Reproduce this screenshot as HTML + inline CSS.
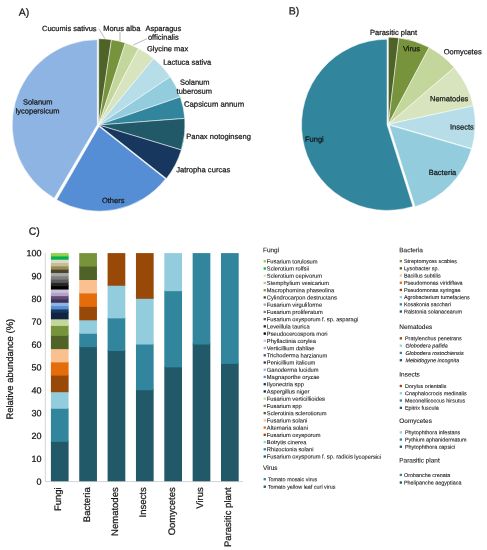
<!DOCTYPE html>
<html><head><meta charset="utf-8"><title>Figure</title>
<style>html,body{margin:0;padding:0;background:#fff;}svg{display:block;}text{font-family:"Liberation Sans",Arial,sans-serif;}</style>
</head><body>
<svg width="487" height="550" viewBox="0 0 487 550">
<rect x="50.90" y="440.86" width="17.7" height="40.74" fill="#215968"/>
<rect x="50.90" y="407.74" width="17.7" height="34.12" fill="#31859C"/>
<rect x="50.90" y="391.19" width="17.7" height="17.56" fill="#93CDDD"/>
<rect x="50.90" y="374.63" width="17.7" height="17.56" fill="#984807"/>
<rect x="50.90" y="361.38" width="17.7" height="14.25" fill="#E46C0A"/>
<rect x="50.90" y="348.14" width="17.7" height="14.25" fill="#FAC090"/>
<rect x="50.90" y="334.89" width="17.7" height="14.25" fill="#4F6228"/>
<rect x="50.90" y="324.96" width="17.7" height="10.93" fill="#77933C"/>
<rect x="50.90" y="318.33" width="17.7" height="7.62" fill="#C3D69B"/>
<rect x="50.90" y="311.71" width="17.7" height="7.62" fill="#0F243E"/>
<rect x="50.90" y="308.40" width="17.7" height="4.31" fill="#17375E"/>
<rect x="50.90" y="305.09" width="17.7" height="4.31" fill="#558ED5"/>
<rect x="50.90" y="301.77" width="17.7" height="4.31" fill="#8EB4E3"/>
<rect x="50.90" y="298.46" width="17.7" height="4.31" fill="#403152"/>
<rect x="50.90" y="295.15" width="17.7" height="4.31" fill="#604A7B"/>
<rect x="50.90" y="291.84" width="17.7" height="4.31" fill="#B3A2C7"/>
<rect x="50.90" y="288.53" width="17.7" height="4.31" fill="#CCC1DA"/>
<rect x="50.90" y="285.22" width="17.7" height="4.31" fill="#000000"/>
<rect x="50.90" y="281.90" width="17.7" height="4.31" fill="#262626"/>
<rect x="50.90" y="278.59" width="17.7" height="4.31" fill="#595959"/>
<rect x="50.90" y="275.28" width="17.7" height="4.31" fill="#7F7F7F"/>
<rect x="50.90" y="271.97" width="17.7" height="4.31" fill="#A6A6A6"/>
<rect x="50.90" y="268.66" width="17.7" height="4.31" fill="#4A452A"/>
<rect x="50.90" y="265.35" width="17.7" height="4.31" fill="#948A54"/>
<rect x="50.90" y="262.03" width="17.7" height="4.31" fill="#C4BD97"/>
<rect x="50.90" y="258.72" width="17.7" height="4.31" fill="#DDD9C3"/>
<rect x="50.90" y="255.41" width="17.7" height="4.31" fill="#00B050"/>
<rect x="50.90" y="253.10" width="17.7" height="3.31" fill="#92D050"/>
<rect x="79.25" y="346.19" width="17.7" height="135.41" fill="#215968"/>
<rect x="79.25" y="332.75" width="17.7" height="14.44" fill="#31859C"/>
<rect x="79.25" y="319.31" width="17.7" height="14.44" fill="#93CDDD"/>
<rect x="79.25" y="305.86" width="17.7" height="14.44" fill="#984807"/>
<rect x="79.25" y="292.42" width="17.7" height="14.44" fill="#E46C0A"/>
<rect x="79.25" y="278.98" width="17.7" height="14.44" fill="#FAC090"/>
<rect x="79.25" y="265.54" width="17.7" height="14.44" fill="#4F6228"/>
<rect x="79.25" y="253.10" width="17.7" height="13.44" fill="#77933C"/>
<rect x="107.60" y="350.03" width="17.7" height="131.57" fill="#215968"/>
<rect x="107.60" y="317.39" width="17.7" height="33.64" fill="#31859C"/>
<rect x="107.60" y="284.74" width="17.7" height="33.64" fill="#93CDDD"/>
<rect x="107.60" y="253.10" width="17.7" height="32.64" fill="#984807"/>
<rect x="135.95" y="389.20" width="17.7" height="92.40" fill="#215968"/>
<rect x="135.95" y="343.50" width="17.7" height="46.70" fill="#31859C"/>
<rect x="135.95" y="297.80" width="17.7" height="46.70" fill="#93CDDD"/>
<rect x="135.95" y="253.10" width="17.7" height="45.70" fill="#984807"/>
<rect x="164.30" y="366.35" width="17.7" height="115.25" fill="#215968"/>
<rect x="164.30" y="290.18" width="17.7" height="77.17" fill="#31859C"/>
<rect x="164.30" y="253.10" width="17.7" height="38.08" fill="#93CDDD"/>
<rect x="192.65" y="343.50" width="17.7" height="138.10" fill="#215968"/>
<rect x="192.65" y="253.10" width="17.7" height="91.40" fill="#31859C"/>
<rect x="221.00" y="362.92" width="17.7" height="118.68" fill="#215968"/>
<rect x="221.00" y="253.10" width="17.7" height="110.82" fill="#31859C"/>
<rect x="263.6" y="260.15" width="2.3" height="2.3" fill="#92D050"/>
<rect x="263.6" y="267.38" width="2.3" height="2.3" fill="#00B050"/>
<rect x="263.6" y="274.61" width="2.3" height="2.3" fill="#DDD9C3"/>
<rect x="263.6" y="281.84" width="2.3" height="2.3" fill="#C4BD97"/>
<rect x="263.6" y="289.07" width="2.3" height="2.3" fill="#948A54"/>
<rect x="263.6" y="296.30" width="2.3" height="2.3" fill="#4A452A"/>
<rect x="263.6" y="303.53" width="2.3" height="2.3" fill="#A6A6A6"/>
<rect x="263.6" y="310.76" width="2.3" height="2.3" fill="#7F7F7F"/>
<rect x="263.6" y="317.99" width="2.3" height="2.3" fill="#595959"/>
<rect x="263.6" y="325.22" width="2.3" height="2.3" fill="#262626"/>
<rect x="263.6" y="332.45" width="2.3" height="2.3" fill="#000000"/>
<rect x="263.6" y="339.68" width="2.3" height="2.3" fill="#CCC1DA"/>
<rect x="263.6" y="346.91" width="2.3" height="2.3" fill="#B3A2C7"/>
<rect x="263.6" y="354.14" width="2.3" height="2.3" fill="#604A7B"/>
<rect x="263.6" y="361.37" width="2.3" height="2.3" fill="#403152"/>
<rect x="263.6" y="368.60" width="2.3" height="2.3" fill="#8EB4E3"/>
<rect x="263.6" y="375.83" width="2.3" height="2.3" fill="#558ED5"/>
<rect x="263.6" y="383.06" width="2.3" height="2.3" fill="#17375E"/>
<rect x="263.6" y="390.29" width="2.3" height="2.3" fill="#0F243E"/>
<rect x="263.6" y="397.52" width="2.3" height="2.3" fill="#C3D69B"/>
<rect x="263.6" y="404.75" width="2.3" height="2.3" fill="#77933C"/>
<rect x="263.6" y="411.98" width="2.3" height="2.3" fill="#4F6228"/>
<rect x="263.6" y="419.21" width="2.3" height="2.3" fill="#FAC090"/>
<rect x="263.6" y="426.44" width="2.3" height="2.3" fill="#E46C0A"/>
<rect x="263.6" y="433.67" width="2.3" height="2.3" fill="#984807"/>
<rect x="263.6" y="440.90" width="2.3" height="2.3" fill="#93CDDD"/>
<rect x="263.6" y="448.13" width="2.3" height="2.3" fill="#31859C"/>
<rect x="263.6" y="455.36" width="2.3" height="2.3" fill="#215968"/>
<rect x="263.6" y="478.05" width="2.3" height="2.3" fill="#31859C"/>
<rect x="263.6" y="485.55" width="2.3" height="2.3" fill="#215968"/>
<rect x="399.7" y="260.00" width="2.3" height="2.3" fill="#77933C"/>
<rect x="399.7" y="267.20" width="2.3" height="2.3" fill="#4F6228"/>
<rect x="399.7" y="274.40" width="2.3" height="2.3" fill="#FAC090"/>
<rect x="399.7" y="281.60" width="2.3" height="2.3" fill="#E46C0A"/>
<rect x="399.7" y="288.80" width="2.3" height="2.3" fill="#984807"/>
<rect x="399.7" y="296.00" width="2.3" height="2.3" fill="#93CDDD"/>
<rect x="399.7" y="303.20" width="2.3" height="2.3" fill="#31859C"/>
<rect x="399.7" y="310.40" width="2.3" height="2.3" fill="#215968"/>
<rect x="399.7" y="337.20" width="2.3" height="2.3" fill="#984807"/>
<rect x="399.7" y="344.50" width="2.3" height="2.3" fill="#93CDDD"/>
<rect x="399.7" y="351.80" width="2.3" height="2.3" fill="#31859C"/>
<rect x="399.7" y="359.10" width="2.3" height="2.3" fill="#215968"/>
<rect x="399.7" y="384.80" width="2.3" height="2.3" fill="#984807"/>
<rect x="399.7" y="392.10" width="2.3" height="2.3" fill="#93CDDD"/>
<rect x="399.7" y="399.40" width="2.3" height="2.3" fill="#31859C"/>
<rect x="399.7" y="406.70" width="2.3" height="2.3" fill="#215968"/>
<rect x="399.7" y="431.20" width="2.3" height="2.3" fill="#93CDDD"/>
<rect x="399.7" y="438.40" width="2.3" height="2.3" fill="#31859C"/>
<rect x="399.7" y="445.60" width="2.3" height="2.3" fill="#215968"/>
<rect x="399.7" y="473.80" width="2.3" height="2.3" fill="#31859C"/>
<rect x="399.7" y="481.40" width="2.3" height="2.3" fill="#215968"/>
<path d="M98.70,125.00L98.70,38.70A86.3,86.3 0 0 1 111.46,39.65Z" fill="#4F6228" stroke="#fff" stroke-width="0.5" stroke-linejoin="round"/>
<path d="M98.70,125.00L111.46,39.65A86.3,86.3 0 0 1 125.37,42.92Z" fill="#77933C" stroke="#fff" stroke-width="0.5" stroke-linejoin="round"/>
<path d="M98.70,125.00L125.37,42.92A86.3,86.3 0 0 1 138.55,48.45Z" fill="#C3D69B" stroke="#fff" stroke-width="0.5" stroke-linejoin="round"/>
<path d="M98.70,125.00L138.55,48.45A86.3,86.3 0 0 1 153.59,58.41Z" fill="#D7E4BD" stroke="#fff" stroke-width="0.5" stroke-linejoin="round"/>
<path d="M98.70,125.00L153.59,58.41A86.3,86.3 0 0 1 170.25,76.74Z" fill="#B7DEE8" stroke="#fff" stroke-width="0.5" stroke-linejoin="round"/>
<path d="M98.70,125.00L170.25,76.74A86.3,86.3 0 0 1 180.30,96.90Z" fill="#93CDDD" stroke="#fff" stroke-width="0.5" stroke-linejoin="round"/>
<path d="M98.70,125.00L180.30,96.90A86.3,86.3 0 0 1 184.75,118.38Z" fill="#31859C" stroke="#fff" stroke-width="0.5" stroke-linejoin="round"/>
<path d="M98.70,125.00L184.75,118.38A86.3,86.3 0 0 1 181.32,149.94Z" fill="#215968" stroke="#fff" stroke-width="0.5" stroke-linejoin="round"/>
<path d="M98.70,125.00L181.32,149.94A86.3,86.3 0 0 1 166.43,178.49Z" fill="#17375E" stroke="#fff" stroke-width="0.5" stroke-linejoin="round"/>
<path d="M98.99,126.47L165.48,178.98A84.73,84.73 0 0 1 56.62,199.85Z" fill="#558ED5" stroke="#fff" stroke-width="0.5" stroke-linejoin="round"/>
<path d="M97.30,124.85L54.24,198.25A85.1,85.1 0 0 1 97.30,39.75Z" fill="#8EB4E3" stroke="#fff" stroke-width="0.5" stroke-linejoin="round"/>
<path d="M388.35,124.20L388.35,37.25A86.95,86.95 0 0 1 398.80,37.88Z" fill="#4F6228" stroke="#fff" stroke-width="0.5" stroke-linejoin="round"/>
<path d="M388.35,124.20L398.80,37.88A86.95,86.95 0 0 1 429.17,47.43Z" fill="#77933C" stroke="#fff" stroke-width="0.5" stroke-linejoin="round"/>
<path d="M388.35,124.20L429.17,47.43A86.95,86.95 0 0 1 454.27,67.50Z" fill="#C3D69B" stroke="#fff" stroke-width="0.5" stroke-linejoin="round"/>
<path d="M388.35,124.20L454.27,67.50A86.95,86.95 0 0 1 473.34,105.83Z" fill="#D7E4BD" stroke="#fff" stroke-width="0.5" stroke-linejoin="round"/>
<path d="M388.35,124.20L473.34,105.83A86.95,86.95 0 0 1 471.81,148.60Z" fill="#B7DEE8" stroke="#fff" stroke-width="0.5" stroke-linejoin="round"/>
<path d="M389.20,125.05L471.46,149.10A85.7,85.7 0 0 1 415.11,206.74Z" fill="#93CDDD" stroke="#fff" stroke-width="0.5" stroke-linejoin="round"/>
<path d="M387.05,124.85L412.92,206.40A85.55,85.55 0 1 1 387.05,39.30Z" fill="#31859C" stroke="#fff" stroke-width="0.5" stroke-linejoin="round"/>
<g stroke="#8a8a8a" stroke-width="0.6" fill="none">
<path d="M98.7,28.7L105,38.7"/>
<path d="M120,32L120,41"/>
<path d="M147,38.7L133.2,45"/>
</g>
<g font-family="'Liberation Sans', Arial, sans-serif" fill="#141414" stroke="#141414" stroke-width="0.22" text-rendering="geometricPrecision">
<text transform="translate(18.7,15.7) rotate(0.03)" font-size="10.5" text-anchor="start" >A)</text>
<text transform="translate(288.7,14.4) rotate(0.03)" font-size="10.5" text-anchor="start" >B)</text>
<text transform="translate(28.7,234.7) rotate(0.03)" font-size="10.5" text-anchor="start" >C)</text>
<text transform="translate(42,31.1) rotate(0.03)" font-size="7.5" text-anchor="start" >Cucumis sativus</text>
<text transform="translate(103.2,31.1) rotate(0.03)" font-size="7.5" text-anchor="start" >Morus alba</text>
<text transform="translate(163.3,31.1) rotate(0.03)" font-size="7.5" text-anchor="middle" >Asparagus</text>
<text transform="translate(163.3,39.7) rotate(0.03)" font-size="7.5" text-anchor="middle" >officinalis</text>
<text transform="translate(147,51.2) rotate(0.03)" font-size="7.5" text-anchor="start" >Glycine max</text>
<text transform="translate(163.2,64.7) rotate(0.03)" font-size="7.5" text-anchor="start" >Lactuca sativa</text>
<text transform="translate(194.7,84.7) rotate(0.03)" font-size="7.5" text-anchor="middle" >Solanum</text>
<text transform="translate(194.3,93.7) rotate(0.03)" font-size="7.5" text-anchor="middle" >tuberosum</text>
<text transform="translate(184,106.7) rotate(0.03)" font-size="7.72" text-anchor="start" >Capsicum annum</text>
<text transform="translate(186.2,139.0) rotate(0.03)" font-size="7.57" text-anchor="start" >Panax notoginseng</text>
<text transform="translate(176.2,172.2) rotate(0.03)" font-size="7.6" text-anchor="start" >Jatropha curcas</text>
<text transform="translate(113.2,203.0) rotate(0.03)" font-size="7.5" text-anchor="middle" >Others</text>
<text transform="translate(37.7,104.4) rotate(0.03)" font-size="7.5" text-anchor="middle" >Solanum</text>
<text transform="translate(37.5,113.5) rotate(0.03)" font-size="7.5" text-anchor="middle" >lycopersicum</text>
<text transform="translate(370,35.0) rotate(0.03)" font-size="7.5" text-anchor="start" >Parasitic plant</text>
<text transform="translate(403,51.3) rotate(0.03)" font-size="7.5" text-anchor="start" >Virus</text>
<text transform="translate(443.7,54.3) rotate(0.03)" font-size="7.5" text-anchor="start" >Oomycetes</text>
<text transform="translate(430,101.3) rotate(0.03)" font-size="7.5" text-anchor="start" >Nematodes</text>
<text transform="translate(450,129.6) rotate(0.03)" font-size="7.5" text-anchor="start" >Insects</text>
<text transform="translate(428.7,175.0) rotate(0.03)" font-size="7.5" text-anchor="start" >Bacteria</text>
<text transform="translate(305,141.7) rotate(0.03)" font-size="7.5" text-anchor="start" >Fungi</text>
<g stroke="#c2c2c2" stroke-width="0.7" fill="none">
<path d="M45.3,253.10L45.3,481.6L243,481.6"/>
</g>
<text transform="translate(41.5,484.8) rotate(0.03)" font-size="9.0" text-anchor="end" >0</text>
<text transform="translate(41.5,461.95) rotate(0.03)" font-size="9.0" text-anchor="end" >10</text>
<text transform="translate(41.5,439.1) rotate(0.03)" font-size="9.0" text-anchor="end" >20</text>
<text transform="translate(41.5,416.25) rotate(0.03)" font-size="9.0" text-anchor="end" >30</text>
<text transform="translate(41.5,393.4) rotate(0.03)" font-size="9.0" text-anchor="end" >40</text>
<text transform="translate(41.5,370.55) rotate(0.03)" font-size="9.0" text-anchor="end" >50</text>
<text transform="translate(41.5,347.7) rotate(0.03)" font-size="9.0" text-anchor="end" >60</text>
<text transform="translate(41.5,324.85) rotate(0.03)" font-size="9.0" text-anchor="end" >70</text>
<text transform="translate(41.5,302.0) rotate(0.03)" font-size="9.0" text-anchor="end" >80</text>
<text transform="translate(41.5,279.15) rotate(0.03)" font-size="9.0" text-anchor="end" >90</text>
<text transform="translate(41.5,256.3) rotate(0.03)" font-size="9.0" text-anchor="end" >100</text>
<text transform="translate(13.1,369.2) rotate(-90)" font-size="9.45" text-anchor="middle">Relative abundance (%)</text>
<text transform="translate(61.35,487.3) rotate(-90)" font-size="9.5" text-anchor="end">Fungi</text>
<text transform="translate(89.70,487.3) rotate(-90)" font-size="9.5" text-anchor="end">Bacteria</text>
<text transform="translate(118.05,487.3) rotate(-90)" font-size="9.5" text-anchor="end">Nematodes</text>
<text transform="translate(146.40,487.3) rotate(-90)" font-size="9.5" text-anchor="end">Insects</text>
<text transform="translate(174.75,487.3) rotate(-90)" font-size="9.5" text-anchor="end">Oomycetes</text>
<text transform="translate(203.10,487.3) rotate(-90)" font-size="9.5" text-anchor="end">Virus</text>
<text transform="translate(231.45,487.3) rotate(-90)" font-size="9.5" text-anchor="end">Parasitic plant</text>
<text transform="translate(263,252.3) rotate(0.03)" font-size="6.45" text-anchor="start" stroke-width="0.08">Fungi</text>
<text transform="translate(266.8,263.37) rotate(0.03)" font-size="5.76" text-anchor="start" stroke-width="0.08">Fusarium torulosum</text>
<text transform="translate(266.8,270.6) rotate(0.03)" font-size="5.76" text-anchor="start" stroke-width="0.08">Sclerotium rolfsii</text>
<text transform="translate(266.8,277.83) rotate(0.03)" font-size="5.76" text-anchor="start" stroke-width="0.08">Sclerotium cepivorum</text>
<text transform="translate(266.8,285.06) rotate(0.03)" font-size="5.76" text-anchor="start" stroke-width="0.08">Stemphylium vesicarium</text>
<text transform="translate(266.8,292.29) rotate(0.03)" font-size="5.76" text-anchor="start" stroke-width="0.08">Macrophomina phaseolina</text>
<text transform="translate(266.8,299.52) rotate(0.03)" font-size="5.76" text-anchor="start" stroke-width="0.08">Cylindrocarpon destructans</text>
<text transform="translate(266.8,306.75) rotate(0.03)" font-size="5.76" text-anchor="start" stroke-width="0.08">Fusarium virguliforme</text>
<text transform="translate(266.8,313.98) rotate(0.03)" font-size="5.76" text-anchor="start" stroke-width="0.08">Fusarium proliferatum</text>
<text transform="translate(266.8,321.21) rotate(0.03)" font-size="5.76" text-anchor="start" stroke-width="0.08">Fusarium oxysporum f. sp. asparagi</text>
<text transform="translate(266.8,328.44) rotate(0.03)" font-size="5.76" text-anchor="start" stroke-width="0.08">Leveillula taurica</text>
<text transform="translate(266.8,335.67) rotate(0.03)" font-size="5.76" text-anchor="start" stroke-width="0.08">Pseudocercospora mori</text>
<text transform="translate(266.8,342.9) rotate(0.03)" font-size="5.76" text-anchor="start" stroke-width="0.08">Phyllactinia corylea</text>
<text transform="translate(266.8,350.13) rotate(0.03)" font-size="5.76" text-anchor="start" stroke-width="0.08">Verticillium dahliae</text>
<text transform="translate(266.8,357.36) rotate(0.03)" font-size="5.76" text-anchor="start" stroke-width="0.08">Trichoderma harzianum</text>
<text transform="translate(266.8,364.59) rotate(0.03)" font-size="5.76" text-anchor="start" stroke-width="0.08">Penicillium italicum</text>
<text transform="translate(266.8,371.82) rotate(0.03)" font-size="5.76" text-anchor="start" stroke-width="0.08">Ganoderma lucidum</text>
<text transform="translate(266.8,379.05) rotate(0.03)" font-size="5.76" text-anchor="start" stroke-width="0.08">Magnaporthe oryzae</text>
<text transform="translate(266.8,386.28) rotate(0.03)" font-size="5.76" text-anchor="start" stroke-width="0.08">Ilyonectria spp</text>
<text transform="translate(266.8,393.51) rotate(0.03)" font-size="5.76" text-anchor="start" stroke-width="0.08">Aspergillus niger</text>
<text transform="translate(266.8,400.74) rotate(0.03)" font-size="5.76" text-anchor="start" stroke-width="0.08">Fusarium verticillioides</text>
<text transform="translate(266.8,407.97) rotate(0.03)" font-size="5.76" text-anchor="start" stroke-width="0.08">Fusarium spp</text>
<text transform="translate(266.8,415.2) rotate(0.03)" font-size="5.76" text-anchor="start" stroke-width="0.08">Sclerotinia sclerotiorum</text>
<text transform="translate(266.8,422.43) rotate(0.03)" font-size="5.76" text-anchor="start" stroke-width="0.08">Fusarium solani</text>
<text transform="translate(266.8,429.66) rotate(0.03)" font-size="5.76" text-anchor="start" stroke-width="0.08">Alternaria solani</text>
<text transform="translate(266.8,436.89) rotate(0.03)" font-size="5.76" text-anchor="start" stroke-width="0.08">Fusarium oxysporum</text>
<text transform="translate(266.8,444.12) rotate(0.03)" font-size="5.76" text-anchor="start" stroke-width="0.08">Botrytis cinerea</text>
<text transform="translate(266.8,451.35) rotate(0.03)" font-size="5.76" text-anchor="start" stroke-width="0.08">Rhizoctonia solani</text>
<text transform="translate(266.8,458.58) rotate(0.03)" font-size="5.76" text-anchor="start" stroke-width="0.08">Fusarium oxysporum f. sp. radicis lycopersici</text>
<text transform="translate(263,470.0) rotate(0.03)" font-size="6.45" text-anchor="start" stroke-width="0.08">Virus</text>
<text transform="translate(267.9,481.15) rotate(0.03)" font-size="5.42" text-anchor="start" stroke-width="0.08">Tomato mosaic virus</text>
<text transform="translate(267.9,488.65) rotate(0.03)" font-size="5.42" text-anchor="start" stroke-width="0.08">Tomato yellow leaf curl virus</text>
<text transform="translate(399.3,252.3) rotate(0.03)" font-size="6.45" text-anchor="start" stroke-width="0.08">Bacteria</text>
<text transform="translate(404,263.1) rotate(0.03)" font-size="5.42" text-anchor="start" stroke-width="0.08">Streptomyces scabies</text>
<text transform="translate(404,270.3) rotate(0.03)" font-size="5.42" text-anchor="start" stroke-width="0.08">Lysobacter sp.</text>
<text transform="translate(404,277.5) rotate(0.03)" font-size="5.42" text-anchor="start" stroke-width="0.08">Bacillus subtilis</text>
<text transform="translate(404,284.7) rotate(0.03)" font-size="5.42" text-anchor="start" stroke-width="0.08">Pseudomonas viridiflava</text>
<text transform="translate(404,291.9) rotate(0.03)" font-size="5.42" text-anchor="start" stroke-width="0.08">Pseudomonas syringae</text>
<text transform="translate(404,299.1) rotate(0.03)" font-size="5.42" text-anchor="start" stroke-width="0.08">Agrobacterium tumefaciens</text>
<text transform="translate(404,306.3) rotate(0.03)" font-size="5.42" text-anchor="start" stroke-width="0.08">Kosakonia sacchari</text>
<text transform="translate(404,313.5) rotate(0.03)" font-size="5.42" text-anchor="start" stroke-width="0.08">Ralstonia solanacearum</text>
<text transform="translate(399.3,329.0) rotate(0.03)" font-size="6.45" text-anchor="start" stroke-width="0.08">Nematodes</text>
<text transform="translate(405,340.3) rotate(0.03)" font-size="5.42" text-anchor="start" stroke-width="0.08">Pratylenchus penetrans</text>
<text transform="translate(405.4,347.6) rotate(0.03)" font-size="5.42" text-anchor="start" stroke-width="0.08" font-style="italic">Globodera pallida</text>
<text transform="translate(405.4,354.9) rotate(0.03)" font-size="5.42" text-anchor="start" stroke-width="0.08" font-style="italic">Globodera rostochiensis</text>
<text transform="translate(405.4,362.2) rotate(0.03)" font-size="5.42" text-anchor="start" stroke-width="0.08" font-style="italic">Meloidogyne incognita</text>
<text transform="translate(399.3,376.5) rotate(0.03)" font-size="6.45" text-anchor="start" stroke-width="0.08">Insects</text>
<text transform="translate(405,387.9) rotate(0.03)" font-size="5.42" text-anchor="start" stroke-width="0.08">Dorylus orientalis</text>
<text transform="translate(405,395.2) rotate(0.03)" font-size="5.42" text-anchor="start" stroke-width="0.08">Cnaphalocrocis medinalis</text>
<text transform="translate(405,402.5) rotate(0.03)" font-size="5.42" text-anchor="start" stroke-width="0.08">Meconellicoccus hirsutus</text>
<text transform="translate(405,409.8) rotate(0.03)" font-size="5.42" text-anchor="start" stroke-width="0.08">Epitrix fuscula</text>
<text transform="translate(399.3,423.0) rotate(0.03)" font-size="6.45" text-anchor="start" stroke-width="0.08">Oomycetes</text>
<text transform="translate(405,434.3) rotate(0.03)" font-size="5.42" text-anchor="start" stroke-width="0.08">Phytophthora infestans</text>
<text transform="translate(405,441.5) rotate(0.03)" font-size="5.42" text-anchor="start" stroke-width="0.08">Pythium aphanidermatum</text>
<text transform="translate(405,448.7) rotate(0.03)" font-size="5.42" text-anchor="start" stroke-width="0.08">Phytophthora capsici</text>
<text transform="translate(399.3,462.5) rotate(0.03)" font-size="6.45" text-anchor="start" stroke-width="0.08">Parasitic plant</text>
<text transform="translate(404,476.9) rotate(0.03)" font-size="5.42" text-anchor="start" stroke-width="0.08">Orobanche crenata</text>
<text transform="translate(404,484.5) rotate(0.03)" font-size="5.42" text-anchor="start" stroke-width="0.08">Phelipanche aegyptiaca</text>
</g>
</svg>
</body></html>
